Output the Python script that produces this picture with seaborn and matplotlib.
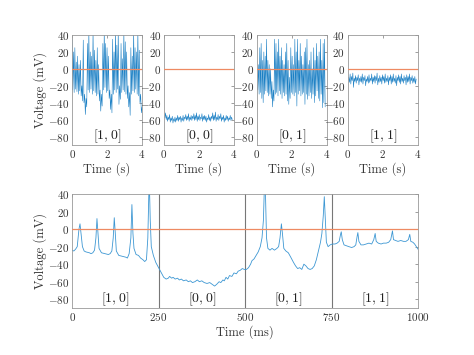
import numpy as np
import pandas as pd
import matplotlib
matplotlib.use("Agg")
import matplotlib.pyplot as plt
import seaborn as sns

# --- top row: 4 s traces for each input pair ---
labels_top = ["[1,0]", "[0,0]", "[0,1]", "[1,1]"]

v_10 = [35, -25, 20, -28, 25, -24, 8, -27, 15, -30,
        5, -26, 10, -32, -20, -38, 34, -40, -30, -54,
        -35, -45, 30, -25, 45, -28, 20, -24, 15, -30,
        45, -26, 22, -28, 10, -32, 25, -30, 5, -38,
        -25, -50, -30, -44, 30, -25, 45, -22, 30, -28,
        25, -26, 15, -35, -25, -48, -30, -52, 35, -30,
        20, -25, 45, -28, 28, -24, 45, -42, -20, -36,
        30, -28, 12, -25, 45, -27, 32, -30, 20, -35,
        -20, -45, -28, -55, 25, -30, 15, -26, 45, -28,
        25, -24, 20, -30, 45, -32, 22, -40, -30, -52,
        -45]

v_00 = [-58, -52, -60, -55, -62, -57, -60, -54, -63, -58,
        -61, -56, -64, -59, -62, -57, -63, -58, -61, -55,
        -62, -57, -60, -56, -63, -58, -61, -55, -62, -57,
        -59, -54, -61, -56, -60, -53, -62, -57, -60, -55,
        -61, -56, -59, -53, -61, -55, -60, -52, -62, -56,
        -60, -54, -61, -57, -59, -53, -62, -56, -60, -55,
        -61, -56, -63, -58, -60, -54, -61, -57, -62, -56,
        -59, -52, -61, -55, -60, -51, -62, -57, -60, -54,
        -61, -56, -59, -53, -62, -57, -60, -55, -63, -58,
        -61, -55, -60, -56, -62, -58, -60, -55, -61, -57,
        -60]

v_01 = [-25, 5, -30, 25, -28, 30, -35, 10, -40, 20,
        -30, 15, -26, 35, -28, 10, -32, 5, -30, 0,
        -35, -15, -45, -25, -38, 35, -30, 30, -28, 20,
        -32, 35, -26, 15, -30, 25, -35, 10, -28, 5,
        -32, 20, -30, 30, -38, 10, -42, -10, -35, 25,
        -28, 15, -30, 5, -32, 35, -28, 20, -44, 35,
        -30, 10, -26, 30, -32, 15, -30, 5, -28, 20,
        -42, 25, -30, 35, -36, 5, -32, 10, -28, 20,
        -35, 0, -30, 25, -40, 10, -32, 30, -26, 15,
        -35, 20, -38, 35, -30, 10, -46, 30, -40, 35,
        -45]

v_11 = [-10, -16, -6, -18, -9, -14, -5, -22, -11, -15,
        -8, -17, -10, -14, -7, -19, -11, -15, -9, -16,
        -6, -18, -10, -14, -8, -20, -12, -15, -9, -17,
        -7, -16, -11, -14, -6, -18, -10, -15, -8, -17,
        -9, -14, -5, -19, -11, -16, -8, -15, -10, -18,
        -7, -14, -9, -17, -6, -16, -11, -15, -8, -19,
        -10, -14, -7, -18, -9, -16, -6, -15, -11, -17,
        -8, -20, -10, -14, -7, -16, -9, -18, -6, -15,
        -11, -17, -8, -14, -10, -19, -7, -16, -9, -15,
        -6, -18, -10, -14, -8, -17, -11, -16, -9, -18,
        -12]

top_traces = [v_10, v_00, v_01, v_11]
top_span = [(0.0, 4.0), (0.05, 3.9), (0.05, 3.9), (0.05, 3.9)]

# --- bottom: 1 s trace switching inputs every 250 ms ---
t_ms = [0, 5, 10, 15, 20, 23, 26, 30, 35, 40, 50, 55, 60, 65, 69, 72, 75, 78, 85, 95,
        105, 110, 115, 119, 122, 125, 128, 135, 145, 155, 160, 165, 170, 173, 176, 179, 185, 192, 198, 205,
        210, 215, 219, 223, 226, 229, 235, 242, 250, 258, 265, 272, 278, 282, 288, 292, 298, 305, 310, 316,
        322, 330, 336, 342, 348, 355, 362, 368, 375, 382, 390, 398, 405, 412, 418, 425, 430, 436, 440, 445,
        450, 455, 462, 468, 475, 480, 486, 492, 498, 504, 510, 516, 520, 526, 532, 538, 544, 549, 553, 556,
        559, 562, 566, 572, 578, 585, 592, 597, 601, 605, 608, 612, 618, 625, 632, 640, 646, 652, 658, 664,
        670, 676, 682, 688, 694, 700, 706, 712, 718, 722, 726, 729, 732, 735, 740, 746, 752, 760, 766, 772,
        776, 778, 781, 786, 793, 800, 808, 815, 820, 824, 826, 829, 835, 842, 850, 858, 866, 872, 876, 879,
        885, 893, 900, 908, 915, 921, 926, 929, 935, 942, 950, 958, 965, 972, 976, 979, 985, 990, 995, 1000]
v_ms = [-24, -25, -23, -20, 0, 6, -5, -20, -25, -26, -27, -28, -27, -24, -10, 12, -5, -22, -27, -28,
        -29, -28, -25, -10, 13, -5, -25, -30, -31, -32, -33, -28, -10, 28, -5, -22, -29, -30, -33, -35,
        -37, -35, -10, 60, 10, -20, -30, -38, -44, -50, -55, -57, -56, -54, -56, -55, -57, -56, -58, -57,
        -59, -58, -60, -59, -61, -60, -58, -60, -59, -61, -62, -61, -63, -65, -63, -60, -61, -58, -59, -55,
        -57, -53, -54, -50, -51, -48, -47, -45, -46, -46, -44, -40, -36, -34, -30, -26, -20, -10, 10, 50,
        40, -10, -22, -24, -22, -24, -22, -20, -10, 6, -5, -22, -25, -27, -32, -38, -42, -45, -44, -46,
        -40, -42, -45, -46, -45, -42, -35, -25, -15, -5, 15, 37, 10, -15, -20, -18, -17, -17, -16, -14,
        -6, -3, -12, -18, -19, -20, -21, -20, -18, -8, -4, -14, -18, -18, -17, -16, -17, -12, -5, -14,
        -16, -17, -16, -16, -15, -12, -2, -12, -13, -14, -13, -14, -14, -12, -6, -14, -15, -17, -20, -23]
switch_ms = [250, 500, 750]
labels_bottom = ["[1,0]", "[0,0]", "[0,1]", "[1,1]"]
label_ms = [125, 375, 625, 875]

sns.set_style("white")
plt.rcParams["font.family"] = "serif"
plt.rcParams["font.serif"] = ["cmr10"]
plt.rcParams["mathtext.fontset"] = "cm"
plt.rcParams["axes.formatter.use_mathtext"] = True
plt.rcParams["font.size"] = 8

trace_col = "#1a7fc4"
thresh_col = "#EE8A62"
box_col = "#999999"


def style_axes(ax):
    for s in ax.spines.values():
        s.set_color(box_col)
        s.set_linewidth(0.6)
    ax.tick_params(direction="in", top=True, right=True, length=2.5, width=0.5,
                   color="#777777", labelsize=8, pad=2, labelcolor="#333333")


fig = plt.figure(figsize=(4.74, 3.55), dpi=100)
lefts = [0.152, 0.346, 0.542, 0.734]
for i in range(4):
    ax = fig.add_axes([lefts[i], 0.5915, 0.1477, 0.310])
    vals = top_traces[i]
    t0, t1 = top_span[i]
    df = pd.DataFrame({"t": np.linspace(t0, t1, len(vals)), "v": vals})
    sns.lineplot(data=df, x="t", y="v", ax=ax, estimator=None, sort=False,
                 color=trace_col, lw=0.4)
    ax.axhline(0, color=thresh_col, lw=0.9, zorder=5)
    ax.set_xlim(0, 4)
    ax.set_ylim(-90, 40)
    ax.set_xticks([0, 2, 4])
    ax.set_yticks([-80, -60, -40, -20, 0, 20, 40])
    ax.set_xlabel("Time (s)", fontsize=9, labelpad=2, color="#333333")
    ax.set_ylabel("Voltage (mV)" if i == 0 else "", fontsize=9, labelpad=1, color="#333333")
    ax.text(2, -80, "$" + labels_top[i] + "$", ha="center", va="center", fontsize=10, color="#222222")
    style_axes(ax)

ax = fig.add_axes([0.152, 0.1324, 0.73, 0.321])
dfb = pd.DataFrame({"t": t_ms, "v": v_ms})
for s in switch_ms:
    ax.axvline(s, color="#777777", lw=0.8)
sns.lineplot(data=dfb, x="t", y="v", ax=ax, estimator=None, sort=False,
             color="#3d97d3", lw=0.6)
ax.axhline(0, color=thresh_col, lw=0.9, zorder=5)
ax.set_xlim(0, 1000)
ax.set_ylim(-90, 40)
ax.set_xticks([0, 250, 500, 750, 1000])
ax.set_yticks([-80, -60, -40, -20, 0, 20, 40])
ax.set_xlabel("Time (ms)", fontsize=9, labelpad=2, color="#333333")
ax.set_ylabel("Voltage (mV)", fontsize=9, labelpad=1, color="#333333")
for lab, xm in zip(labels_bottom, label_ms):
    ax.text(xm, -80, "$" + lab + "$", ha="center", va="center", fontsize=10, color="#222222")
style_axes(ax)

fig.savefig("out.png", dpi=100)
